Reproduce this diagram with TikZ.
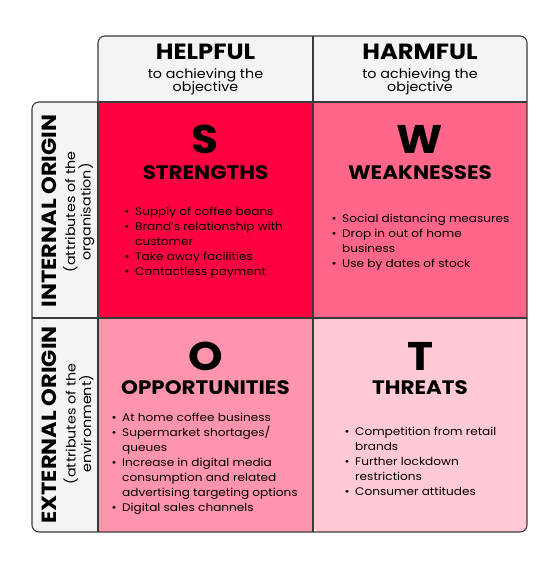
\documentclass[tikz,border=0pt]{standalone}
\usepackage{fontspec}
\setmainfont{Poppins}[FakeStretch=1.1]
\definecolor{cS}{HTML}{FF0040}
\definecolor{cW}{HTML}{FF6689}
\definecolor{cO}{HTML}{FF94AD}
\definecolor{cT}{HTML}{FFC9D6}
\definecolor{hdr}{HTML}{F3F4F6}
\definecolor{edge}{HTML}{3A3A3A}
\tikzset{
  border/.style={draw=edge, line width=1.1pt},
  bigletter/.style={font=\fontsize{40}{40}\selectfont\bfseries, text=black, inner sep=0pt, anchor=base, text height=28pt, text depth=0pt},
  celltitle/.style={font=\fontsize{19.5}{20}\selectfont\bfseries, text=black, inner sep=0pt, anchor=base, text height=14pt, text depth=0pt},
  hdrtitle/.style={font=\fontsize{22}{22}\selectfont\bfseries, text=black, inner sep=0pt, anchor=base, text height=15pt, text depth=0pt},
  hdrsub/.style={font=\fontsize{13}{13}\selectfont, inner sep=0pt, anchor=base},
  sidetitle/.style={font=\fontsize{20.5}{20.5}\selectfont\bfseries, rotate=90, inner sep=0pt},
  sidesub/.style={font=\fontsize{13}{12.5}\selectfont, rotate=90, align=center, inner sep=0pt},
  blist/.style={anchor=north west, inner sep=0pt, font=\fontsize{11}{15}\selectfont}
}
\newcommand{\bl}{\raisebox{0.1ex}{\textbullet}}
\begin{document}
\begin{tikzpicture}[x=1pt,y=-1pt]
\useasboundingbox (0,0) rectangle (558,561);
% fills
\fill[hdr] (98,102) {[rounded corners=7] -- (98,36) -- (527,36)} -- (527,102) -- cycle;
\fill[hdr] (98,102) {[rounded corners=7] -- (32,102) -- (32,532)} -- (98,532) -- cycle;
\fill[cS] (98,102) rectangle (313,318);
\fill[cW] (313,102) rectangle (527,318);
\fill[cO] (98,318) rectangle (313,532);
\fill[cT] (313,318) -- (527,318) {[rounded corners=7] -- (527,532) -- (313,532)} -- cycle;
% borders
\draw[border] (98,102) {[rounded corners=7] -- (98,36) -- (527,36) -- (527,532) -- (32,532) -- (32,102)} -- (98,102);
\draw[border] (98,102) -- (98,532);
\draw[border] (313,36) -- (313,532);
\draw[border] (98,102) -- (527,102);
\draw[border] (32,318) -- (527,318);
% header
\node[hdrtitle] (helpful) at (205.5,60) {HELPFUL};
\node[hdrsub] (helpsubA) at (205.5,79) {to achieving the};
\node[hdrsub] (helpsubB) at (205.5,92) {objective};
\node[hdrtitle] (harmful) at (420,60) {HARMFUL};
\node[hdrsub] (harmsubA) at (420,79) {to achieving the};
\node[hdrsub] (harmsubB) at (420,92) {objective};
% side
\node[sidetitle] (internal) at (49,211) {INTERNAL ORIGIN};
\node[sidesub] (intsub) at (78.5,212) {(attributes of the\\organisation)};
\node[sidetitle] (external) at (49,425) {EXTERNAL ORIGIN};
\node[sidesub] (extsub) at (78.5,424) {(attributes of the\\environment)};
% S
\node[bigletter] (S) at (205.5,154) {S};
\node[celltitle] (strengths) at (205.5,179) {STRENGTHS};
\node[blist] (slist) at (124.5,205) {\begin{tabular}{@{}l@{\hspace{5.5pt}}l@{}}
\bl & Supply of coffee beans\\
\bl & Brand’s relationship with\\
 & customer\\
\bl & Take away facilities\\
\bl & Contactless payment
\end{tabular}};
% W
\node[bigletter] (W) at (420,154) {W};
\node[celltitle] (weak) at (420,179) {WEAKNESSES};
\node[blist] (wlist) at (331.5,212) {\begin{tabular}{@{}l@{\hspace{5.5pt}}l@{}}
\bl & Social distancing measures\\
\bl & Drop in out of home\\
 & business\\
\bl & Use by dates of stock
\end{tabular}};
% O
\node[bigletter] (O) at (205.5,370) {O};
\node[celltitle] (opp) at (205.5,394) {OPPORTUNITIES};
\node[blist] (olist) at (111.5,411) {\begin{tabular}{@{}l@{\hspace{5.5pt}}l@{}}
\bl & At home coffee business\\
\bl & Supermarket shortages/\\
 & queues\\
\bl & Increase in digital media\\
 & consumption and related\\
 & advertising targeting options\\
\bl & Digital sales channels
\end{tabular}};
% T
\node[bigletter] (T) at (420,370) {T};
\node[celltitle] (threats) at (420,394) {THREATS};
\node[blist] (tlist) at (344.5,425) {\begin{tabular}{@{}l@{\hspace{5.5pt}}l@{}}
\bl & Competition from retail\\
 & brands\\
\bl & Further lockdown\\
 & restrictions\\
\bl & Consumer attitudes
\end{tabular}};
\end{tikzpicture}
\end{document}
